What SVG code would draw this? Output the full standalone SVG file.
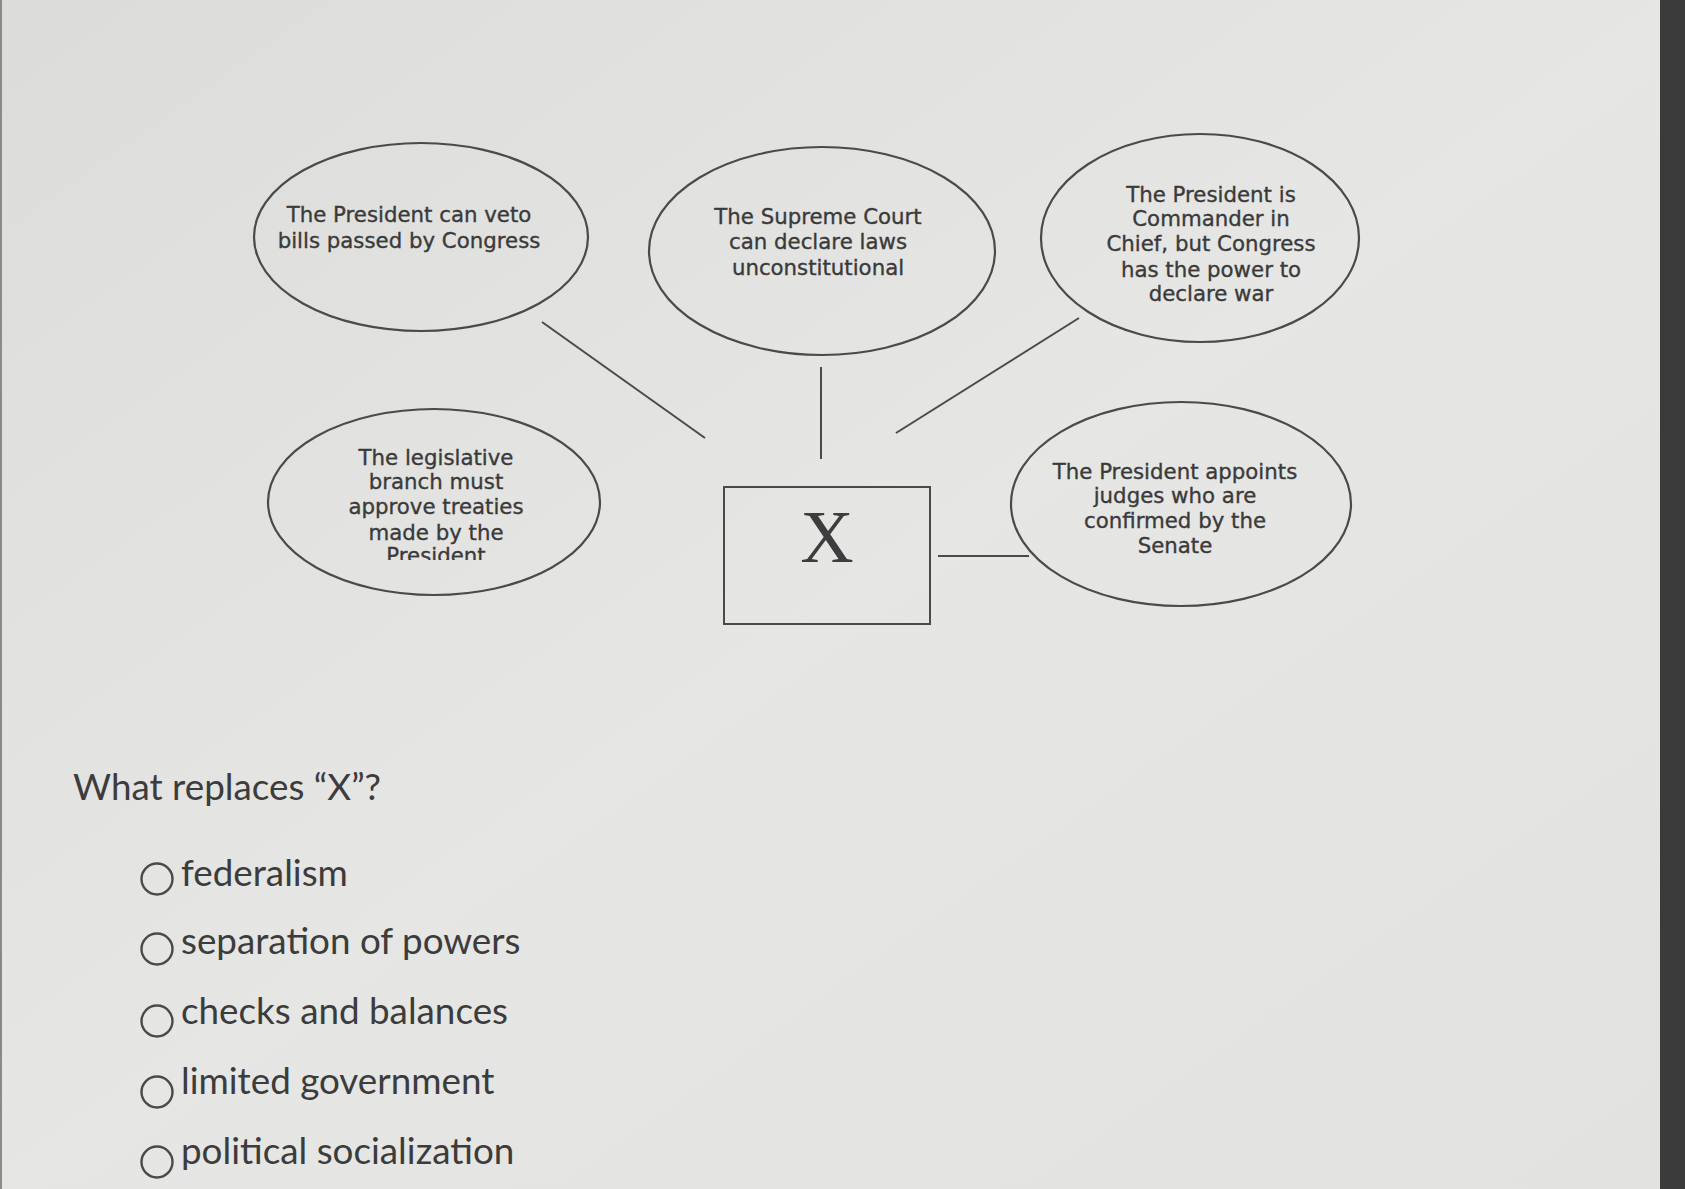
<svg xmlns="http://www.w3.org/2000/svg" width="1685" height="1189" viewBox="0 0 1685 1189">
  <defs>
    <linearGradient id="bg" x1="0" y1="0" x2="1" y2="1">
      <stop offset="0" stop-color="#dcdcda"/>
      <stop offset="0.5" stop-color="#e6e6e4"/>
      <stop offset="1" stop-color="#e2e2e0"/>
    </linearGradient>
    <clipPath id="clipLeg">
      <rect x="260" y="420" width="360" height="140"/>
    </clipPath>
    <style>
      .node ellipse { fill: none; stroke: #4a4a4a; stroke-width: 2.2; }
      .node rect { fill: none; stroke: #4a4a4a; stroke-width: 2; }
      .lbl { font-family: "DejaVu Sans", Verdana, sans-serif; font-size: 21.3px; fill: #3a3a3a; stroke: #3a3a3a; stroke-width: 0.35; text-anchor: middle; }
      .big { font-family: "Liberation Serif", "Times New Roman", serif; font-size: 74px; fill: #3d3d3d; text-anchor: middle; }
      .conn line { stroke: #4a4a4a; stroke-width: 2; }
      .q { font-family: Lato, "Open Sans", sans-serif; font-size: 36.8px; fill: #3c3c3c; }
      .opt circle { fill: none; stroke: #4a4a4a; stroke-width: 2.4; }
    </style>
  </defs>

  <rect x="0" y="0" width="1685" height="1189" fill="url(#bg)"/>
  <rect x="1660" y="0" width="25" height="1189" fill="#3b3b3b"/>
  <rect x="0" y="0" width="2" height="1189" fill="#8a8a8a"/>

  <g id="connectors" class="conn">
    <line x1="542" y1="322" x2="705" y2="438"/>
    <line x1="821" y1="367" x2="821" y2="459"/>
    <line x1="1079" y1="318" x2="896" y2="433"/>
    <line x1="938" y1="556" x2="1029" y2="556"/>
  </g>

  <g id="node-veto" class="node">
    <ellipse cx="421" cy="237" rx="167" ry="94"/>
    <text class="lbl" x="409" y="222">The President can veto</text>
    <text class="lbl" x="409" y="248">bills passed by Congress</text>
  </g>

  <g id="node-court" class="node">
    <ellipse cx="822" cy="251" rx="173" ry="104"/>
    <text class="lbl" x="818" y="224">The Supreme Court</text>
    <text class="lbl" x="818" y="249">can declare laws</text>
    <text class="lbl" x="818" y="275">unconstitutional</text>
  </g>

  <g id="node-war" class="node">
    <ellipse cx="1200" cy="238" rx="159" ry="104"/>
    <text class="lbl" x="1211" y="202">The President is</text>
    <text class="lbl" x="1211" y="226">Commander in</text>
    <text class="lbl" x="1211" y="251">Chief, but Congress</text>
    <text class="lbl" x="1211" y="277">has the power to</text>
    <text class="lbl" x="1211" y="301">declare war</text>
  </g>

  <g id="node-treaties" class="node">
    <ellipse cx="434" cy="502" rx="166" ry="93"/>
    <g clip-path="url(#clipLeg)">
      <text class="lbl" x="436" y="465">The legislative</text>
      <text class="lbl" x="436" y="489">branch must</text>
      <text class="lbl" x="436" y="514">approve treaties</text>
      <text class="lbl" x="436" y="540">made by the</text>
      <text class="lbl" x="436" y="563">President</text>
    </g>
  </g>

  <g id="node-judges" class="node">
    <ellipse cx="1181" cy="504" rx="170" ry="102"/>
    <text class="lbl" x="1175" y="479">The President appoints</text>
    <text class="lbl" x="1175" y="503">judges who are</text>
    <text class="lbl" x="1175" y="528">confirmed by the</text>
    <text class="lbl" x="1175" y="553">Senate</text>
  </g>

  <g id="node-x" class="node">
    <rect x="724" y="487" width="206" height="137"/>
    <text class="big" x="827" y="562">X</text>
  </g>

  <g id="question">
    <text class="q" x="73" y="800">What replaces “X”?</text>
  </g>

  <g id="options" class="opt">
    <g id="opt-federalism">
      <circle cx="157" cy="879" r="15.5"/>
      <text class="q" x="181" y="886">federalism</text>
    </g>
    <g id="opt-separation">
      <circle cx="157" cy="949" r="15.5"/>
      <text class="q" x="181" y="954">separation of powers</text>
    </g>
    <g id="opt-checks">
      <circle cx="157" cy="1021" r="15.5"/>
      <text class="q" x="181" y="1024">checks and balances</text>
    </g>
    <g id="opt-limited">
      <circle cx="157" cy="1092" r="15.5"/>
      <text class="q" x="181" y="1094">limited government</text>
    </g>
    <g id="opt-political">
      <circle cx="157" cy="1162" r="15.5"/>
      <text class="q" x="181" y="1164">political socialization</text>
    </g>
  </g>
</svg>
